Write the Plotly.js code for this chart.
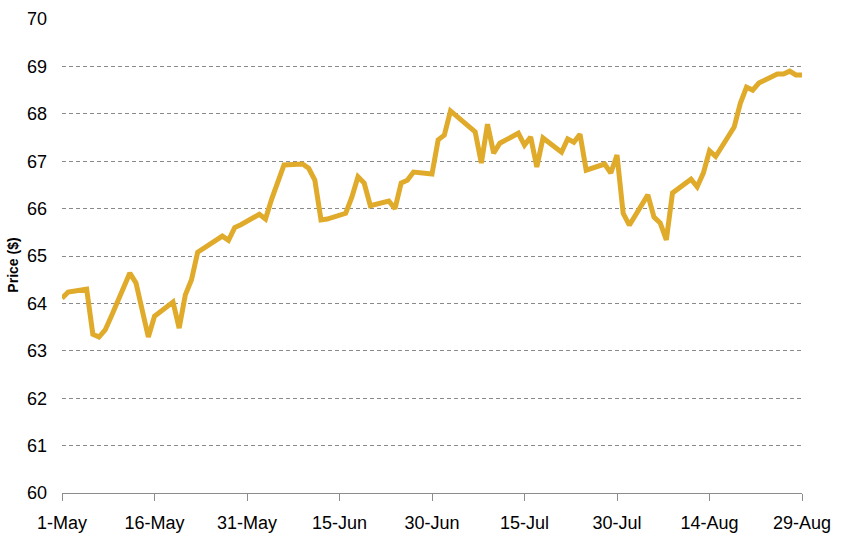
<!DOCTYPE html>
<html>
<head>
<meta charset="utf-8">
<script src="https://cdn.plot.ly/plotly-3.0.1.min.js"></script>
<style>
  html, body { margin: 0; padding: 0; background: #fff; }
  #chart { width: 849px; height: 536px; }
</style>
</head>
<body>
<div id="chart"></div>
<script>
// ngày giao dịch (2014) và giá đóng cửa
var dates = [
  "2014-05-01","2014-05-02","2014-05-05","2014-05-06","2014-05-07","2014-05-08","2014-05-09",
  "2014-05-12","2014-05-13","2014-05-14","2014-05-15","2014-05-16",
  "2014-05-19","2014-05-20","2014-05-21","2014-05-22","2014-05-23",
  "2014-05-27","2014-05-28","2014-05-29","2014-05-30",
  "2014-06-02","2014-06-03","2014-06-04","2014-06-05","2014-06-06",
  "2014-06-09","2014-06-10","2014-06-11","2014-06-12","2014-06-13",
  "2014-06-16","2014-06-17","2014-06-18","2014-06-19","2014-06-20",
  "2014-06-23","2014-06-24","2014-06-25","2014-06-26","2014-06-27",
  "2014-06-30","2014-07-01","2014-07-02","2014-07-03",
  "2014-07-07","2014-07-08","2014-07-09","2014-07-10","2014-07-11",
  "2014-07-14","2014-07-15","2014-07-16","2014-07-17","2014-07-18",
  "2014-07-21","2014-07-22","2014-07-23","2014-07-24","2014-07-25",
  "2014-07-28","2014-07-29","2014-07-30","2014-07-31","2014-08-01",
  "2014-08-04","2014-08-05","2014-08-06","2014-08-07","2014-08-08",
  "2014-08-11","2014-08-12","2014-08-13","2014-08-14","2014-08-15",
  "2014-08-18","2014-08-19","2014-08-20","2014-08-21","2014-08-22",
  "2014-08-25","2014-08-26","2014-08-27","2014-08-28","2014-08-29"
];
var prices = [
  64.11, 64.24, 64.30, 63.35, 63.29, 63.44, 63.73,
  64.64, 64.43, 63.86, 63.29, 63.73,
  64.03, 63.48, 64.18, 64.50, 65.08,
  65.42, 65.33, 65.60, 65.66,
  65.88, 65.78, 66.20, 66.55, 66.92,
  66.94, 66.85, 66.60, 65.76, 65.78,
  65.90, 66.24, 66.67, 66.54, 66.06,
  66.16, 66.00, 66.54, 66.60, 66.77,
  66.73, 67.45, 67.55, 68.06,
  67.62, 66.96, 67.78, 67.17, 67.38,
  67.59, 67.34, 67.51, 66.88, 67.49,
  67.19, 67.47, 67.40, 67.57, 66.81,
  66.94, 66.75, 67.13, 65.90, 65.65,
  66.29, 65.82, 65.70, 65.34, 66.33,
  66.62, 66.46, 66.75, 67.22, 67.10,
  67.72, 68.22, 68.56, 68.50, 68.65,
  68.84, 68.84, 68.90, 68.82, 68.82
];

// nhãn trục x
var tickDates = ["2014-05-01","2014-05-16","2014-05-31","2014-06-15","2014-06-30",
                 "2014-07-15","2014-07-30","2014-08-14","2014-08-29"];
var tickLabels = ["1-May","16-May","31-May","15-Jun","30-Jun","15-Jul","30-Jul","14-Aug","29-Aug"];
var yTicks = [60, 61, 62, 63, 64, 65, 66, 67, 68, 69, 70];

var data = [{
  x: dates,
  y: prices,
  type: "scatter",
  mode: "lines",
  line: { color: "#E0AA2A", width: 5 },
  hoverinfo: "x+y"
}];

var layout = {
  width: 849,
  height: 536,
  margin: { t: 19, r: 47, l: 62, b: 43 },
  paper_bgcolor: "#ffffff",
  plot_bgcolor: "#ffffff",
  font: { family: "Liberation Sans, Arial, sans-serif", color: "black", size: 18 },
  showlegend: false,
  xaxis: {
    type: "date",
    range: ["2014-05-01", "2014-08-29"],
    tickvals: tickDates,
    ticktext: tickLabels,
    showgrid: false,
    zeroline: false,
    showline: true,
    linecolor: "#8c8c8c",
    linewidth: 1,
    ticks: "outside",
    ticklen: 7,
    tickcolor: "#8c8c8c",
    tickwidth: 1,
    ticklabelstandoff: 6,
    tickfont: { size: 18, color: "black" }
  },
  yaxis: {
    range: [60, 70],
    tickvals: yTicks,
    showgrid: true,
    gridcolor: "#8a8a8a",
    gridwidth: 1,
    griddash: "4px,3px",
    zeroline: false,
    showline: false,
    ticks: "",
    ticklabelstandoff: 14,
    tickfont: { size: 18, color: "black" }
  },
  annotations: [{
    xref: "paper", yref: "paper",
    x: -0.066, y: 0.48,
    xanchor: "center", yanchor: "middle",
    text: "<b>Price ($)</b>",
    textangle: -90,
    showarrow: false,
    font: { size: 14, color: "black" }
  }]
};

Plotly.newPlot("chart", data, layout, { displayModeBar: false, staticPlot: true });
</script>
</body>
</html>
